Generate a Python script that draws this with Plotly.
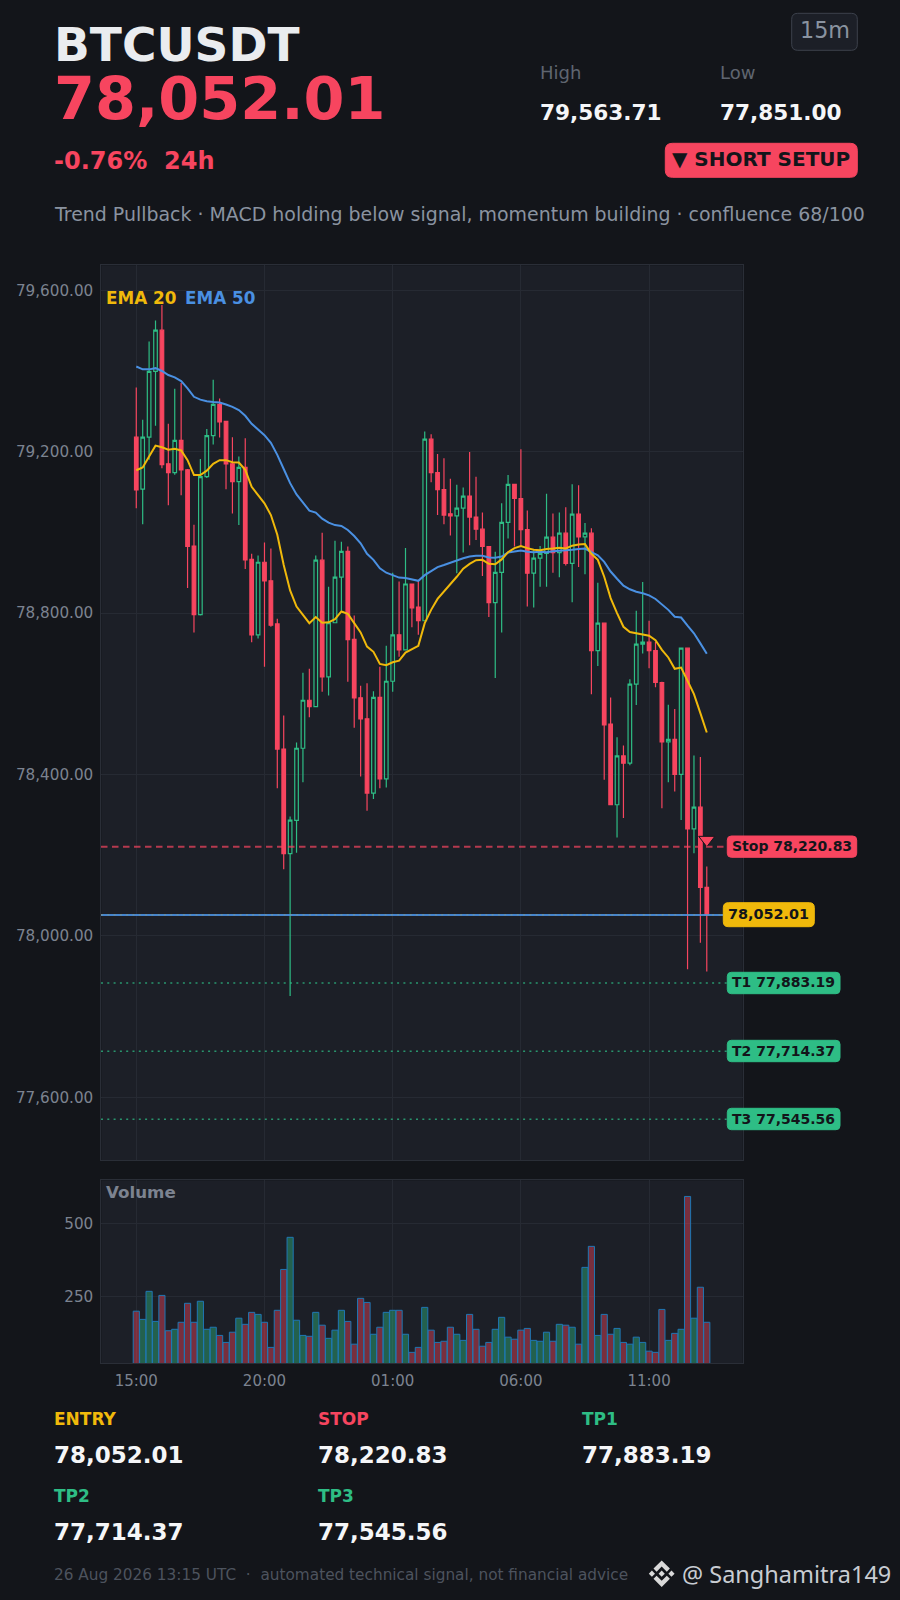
import pandas as pd
import plotly.graph_objects as go
from plotly.subplots import make_subplots

times = pd.date_range("2026-08-25 15:00", periods=90, freq="15min")

opens = [79236,79107,79236,79399,79501,79170,79148,79228,79155,78966,78796,79138,79240,79317,79275,79170,79126,79161,78933,78746,
         78926,78880,78773,78463,78204,78286,78465,78584,78568,78931,78642,78776,78889,78953,78735,78590,78538,78354,78591,78389,
         78631,78746,78709,78872,78815,78781,79231,79148,79106,79046,79041,79060,79090,79038,79008,78965,78826,78901,79025,79119,
         79084,79007,78899,78936,78948,78988,78950,78998,78923,79045,78989,78998,78707,78775,78525,78325,78446,78428,78624,78723,
         78728,78707,78628,78481,78487,78400,78713,78265,78319,78120]
closes = [79105,79236,79399,79501,79168,79148,79228,79155,78965,78796,79138,79240,79317,79274,79170,79126,79161,78932,78746,78926,
          78880,78770,78463,78204,78287,78465,78584,78568,78931,78642,78776,78889,78953,78734,78590,78538,78354,78591,78389,78631,
          78746,78709,78872,78813,78781,79231,79148,79106,79043,79041,79060,79090,79038,79008,78965,78826,78901,79025,79119,79084,
          79007,78899,78936,78948,78988,78950,78998,78923,79045,78989,78998,78707,78775,78523,78325,78446,78428,78624,78723,78728,
          78707,78628,78481,78487,78400,78713,78265,78319,78120,78052.01]
highs = [79359,79279,79473,79525,79563.71,79269,79356,79370,79157,79019,79182,79256,79378,79332,79276,79236,79188,79233,78947,78943,
         78975,78960,78786,78546,78296,78479,78652,78662,78943,78999,78865,78979,78977,78965,78794,78620,78626,78606,78667,78719,
         78900,78878,78961,78873,78882,79250,79243,79194,79184,79133,79118,79111,79199,79138,79049,78966,78952,79072,79142,79120,
         79206,79054,78956,78966,79096,79047,79049,79062,79119,79117,79023,79010,78875,78776,78591,78492,78472,78636,78806,78877,
         78781,78729,78630,78573,78562,78714,78714,78447,78443,78172]
lows = [79060,79020,79180,79264,79159,79067,79143,79092,78862,78752,78794,79135,79218,79235,79107,79047,79018,78909,78728,78737,
        78667,78766,78366,78165,77851,78206,78381,78542,78568,78605,78596,78775,78806,78630,78516,78395,78310,78339,78366,78368,
        78605,78692,78708,78765,78746,78780,79124,79043,79020,78992,78899,78950,78968,78981,78892,78790,78639,78752,78985,78965,
        78965,78816,78814,78865,78865,78900,78889,78918,78827,78914,78896,78599,78669,78387,78324,78244,78292,78423,78572,78700,
        78663,78616,78316,78381,78358,78287,77917,78205,77983,77912]
ema20 = [79154,79161,79188,79215,79211,79205,79207,79203,79179,79142,79142,79153,79170,79179,79179,79174,79173,79155,79113,79093,
         79072,79043,78994,78919,78856,78816,78795,78775,78790,78776,78777,78785,78804,78798,78775,78752,78717,78704,78674,78671,
         78678,78682,78702,78711,78719,78775,78808,78835,78853,78871,78890,78910,78922,78931,78932,78922,78921,78933,78951,78961,
         78966,78961,78957,78956,78959,78960,78962,78960,78967,78970,78971,78947,78932,78890,78837,78800,78766,78753,78750,78748,
         78744,78733,78709,78690,78662,78665,78630,78599,78552,78504]
ema50 = [79411,79404,79404,79407,79400,79390,79384,79375,79357,79336,79329,79325,79323,79322,79317,79311,79303,79289,79269,79256,
         79241,79222,79192,79157,79122,79094,79073,79054,79049,79034,79024,79018,79016,79006,78991,78973,78947,78932,78911,78900,
         78894,78888,78887,78884,78880,78894,78905,78914,78919,78925,78930,78936,78940,78942,78942,78938,78937,78940,78950,78953,
         78955,78952,78951,78952,78951,78953,78954,78955,78957,78959,78960,78951,78943,78927,78903,78885,78868,78859,78853,78849,
         78844,78835,78822,78808,78791,78789,78769,78750,78725,78699]
volumes = [199,171,267,164,253,132,137,161,226,161,233,137,144,116,92,127,175,154,195,188,
           161,75,202,342,452,168,116,113,195,151,106,134,202,164,86,243,229,120,144,195,
           202,202,120,58,75,212,134,92,96,144,120,99,188,137,79,92,137,178,110,103,
           134,140,99,96,127,96,154,151,144,86,349,421,116,188,120,140,92,86,110,92,
           62,58,205,99,123,137,592,175,281,161]

price_ticks = [77600, 78000, 78400, 78800, 79200, 79600]
vol_ticks = [250, 500]
time_ticks = ["2026-08-25 15:00", "2026-08-25 20:00", "2026-08-26 01:00", "2026-08-26 06:00", "2026-08-26 11:00"]
time_labels = ["15:00", "20:00", "01:00", "06:00", "11:00"]

entry = 78052.01
stop = 78220.83
targets = [77883.19, 77714.37, 77545.56]
signal_time = times[-1]
signal_price = 78238

BG = "#13151a"
PANEL = "#1c1f27"
GRID = "#262a33"
BORDER = "#2a2e37"
RED = "#f7455f"
GREEN = "#2ebd85"
GOLD = "#f0b90b"
BLUE = "#4a90e2"
GREY = "#8a93a0"
AXIS = "#7c8390"
WHITE = "#f5f6f8"
DARK = "#13151a"
FONT = "DejaVu Sans"

W, H = 900, 1600


def px(x):
    return x / W


def py(y):
    return 1 - y / H


fig = make_subplots(rows=2, cols=1, shared_xaxes=True)

fig.add_trace(go.Candlestick(
    x=times, open=opens, high=highs, low=lows, close=closes,
    increasing=dict(line=dict(color=GREEN, width=1.2), fillcolor="rgba(0,0,0,0)"),
    decreasing=dict(line=dict(color=RED, width=1.2), fillcolor=RED),
    whiskerwidth=0,
), row=1, col=1)
fig.add_trace(go.Scatter(x=times, y=ema50, mode="lines", line=dict(color=BLUE, width=2)), row=1, col=1)
fig.add_trace(go.Scatter(x=times, y=ema20, mode="lines", line=dict(color=GOLD, width=2)), row=1, col=1)
fig.add_trace(go.Scatter(
    x=[signal_time], y=[signal_price], mode="markers",
    marker=dict(symbol="triangle-down", size=14, color=RED, line=dict(color=DARK, width=1)),
), row=1, col=1)

bar_colors = ["rgba(247,69,95,0.42)" if c < o else "rgba(46,189,133,0.42)" for o, c in zip(opens, closes)]
fig.add_trace(go.Bar(
    x=times, y=volumes,
    marker=dict(color=bar_colors, line=dict(color="#1f77b4", width=1)),
), row=2, col=1)

shapes = []


def rounded(x0, y0, x1, y1, r, fill, line=None):
    path = (f"M{px(x0 + r)},{py(y0)} L{px(x1 - r)},{py(y0)} Q{px(x1)},{py(y0)} {px(x1)},{py(y0 + r)} "
            f"L{px(x1)},{py(y1 - r)} Q{px(x1)},{py(y1)} {px(x1 - r)},{py(y1)} "
            f"L{px(x0 + r)},{py(y1)} Q{px(x0)},{py(y1)} {px(x0)},{py(y1 - r)} "
            f"L{px(x0)},{py(y0 + r)} Q{px(x0)},{py(y0)} {px(x0 + r)},{py(y0)} Z")
    shapes.append(dict(type="path", xref="paper", yref="paper", path=path, fillcolor=fill,
                       line=dict(color=line or fill, width=1), layer="above"))


def level(value, x1, color, dash, width):
    shapes.append(dict(type="line", xref="paper", yref="y", x0=px(101), x1=px(x1), y0=value, y1=value,
                       line=dict(color=color, dash=dash, width=width), layer="above"))


def poly(points, fill):
    path = "M" + " L".join(f"{px(x)},{py(y)}" for x, y in points) + " Z"
    shapes.append(dict(type="path", xref="paper", yref="paper", path=path, fillcolor=fill,
                       line=dict(width=0), layer="above"))


level(stop, 727, "rgba(247,69,95,0.7)", "6.5px,4.5px", 2)
level(entry, 723, "rgba(74,144,226,0.9)", "solid", 2)
level(entry, 723, "rgba(240,185,11,0.3)", "2px,4.3px", 1)
for t in targets:
    level(t, 727, "rgba(46,189,133,0.75)", "2px,4.3px", 1.5)

rounded(791.7, 13.3, 857.3, 50.3, 6, PANEL, "#3c414c")
rounded(665.3, 143.3, 857.3, 177.3, 7, RED)
rounded(727.3, 836, 856.7, 857.3, 4, RED)
rounded(723.3, 902.7, 814.3, 926.7, 5, GOLD)
for top in [972.3, 1040.3, 1108.3]:
    rounded(727.3, top, 840, top + 21.4, 4, GREEN)

# binance mark next to the handle
lx, ly = 661.7, 1573.7
for dx in [-9.8, 0, 9.8]:
    poly([(lx + dx - 3.1, ly), (lx + dx, ly - 3.1), (lx + dx + 3.1, ly), (lx + dx, ly + 3.1)], "#d9d9d9")
for s in [-1, 1]:
    poly([(lx, ly + s * 13.3), (lx + 8.2, ly + s * 5.1), (lx + 5.1, ly + s * 2), (lx, ly + s * 7.1),
          (lx - 5.1, ly + s * 2), (lx - 8.2, ly + s * 5.1)], "#d9d9d9")

notes = []


def label(x, y, text, size, color, bold=False, anchor="left", family=FONT):
    notes.append(dict(xref="paper", yref="paper", x=px(x), y=py(y), text=f"<b>{text}</b>" if bold else text,
                      showarrow=False, xanchor=anchor, yanchor="middle", borderpad=0, borderwidth=0,
                      font=dict(family=family, size=size, color=color)))


label(54, 45, "BTCUSDT", 47, "#eaecef", True)
label(54, 98, "78,052.01", 58.9, RED, True)
label(54, 161, "-0.76%", 24, RED, True)
label(164, 161, "24h", 24, RED, True)
label(54, 214, "Trend Pullback · MACD holding below signal, momentum building · confluence 68/100", 18.96, GREY)
label(539.7, 72, "High", 18, "#5f6570")
label(720, 72, "Low", 18, "#5f6570")
label(539.7, 112.5, "79,563.71", 21.6, WHITE, True)
label(720, 112.5, "77,851.00", 21.6, WHITE, True)
label(824.5, 30.5, "15m", 22.3, GREY, anchor="center")
label(761.3, 159, "▼ SHORT SETUP", 20, DARK, True, anchor="center")

label(106.3, 297.7, "EMA 20", 16.8, GOLD, True)
label(185, 297.7, "EMA 50", 16.8, BLUE, True)
label(106, 1191.7, "Volume", 16.7, AXIS, True)

label(731.7, 846, "Stop 78,220.83", 14, DARK, True)
label(728, 913.5, "78,052.01", 14.4, DARK, True)
label(731.7, 982.5, "T1 77,883.19", 14, DARK, True)
label(731.7, 1050.5, "T2 77,714.37", 14, DARK, True)
label(731.7, 1118.5, "T3 77,545.56", 14, DARK, True)

label(54, 1419, "ENTRY", 17, GOLD, True)
label(318, 1419, "STOP", 17, RED, True)
label(582, 1419, "TP1", 17, GREEN, True)
label(54, 1455, "78,052.01", 23, WHITE, True)
label(318, 1455, "78,220.83", 23, WHITE, True)
label(582, 1455, "77,883.19", 23, WHITE, True)
label(54, 1496, "TP2", 17, GREEN, True)
label(318, 1496, "TP3", 17, GREEN, True)
label(54, 1531.5, "77,714.37", 23, WHITE, True)
label(318, 1531.5, "77,545.56", 23, WHITE, True)

label(54, 1574.5, "26 Aug 2026 13:15 UTC  ·  automated technical signal, not financial advice", 15.3, "#4d535e")
label(681.7, 1573.7, "@ Sanghamitra149", 23.5, "#c8ccd2", family="Noto Sans")

fig.update_layout(
    width=W, height=H, margin=dict(l=0, r=0, t=0, b=0), autosize=False,
    paper_bgcolor=BG, plot_bgcolor=PANEL, showlegend=False, bargap=0.04, boxgap=0.2,
    font=dict(family=FONT, color=AXIS), shapes=shapes, annotations=notes,
)

x_range = ["2026-08-25 13:38:08", "2026-08-26 14:39:04"]
axis_style = dict(gridcolor=GRID, gridwidth=1, zeroline=False, showline=True, linecolor=BORDER, linewidth=1, mirror=True)
fig.update_xaxes(domain=[px(101.3), px(742.7)], range=x_range, tickvals=time_ticks, ticktext=time_labels,
                 rangeslider_visible=False, tickfont=dict(size=15, color=AXIS), ticks="outside", ticklen=4,
                 tickcolor="rgba(0,0,0,0)", **axis_style)
fig.update_xaxes(showticklabels=False, ticks="", row=1, col=1)
fig.update_yaxes(domain=[py(1160.3), py(265.3)], range=[77443.8, 79661.9], tickvals=price_ticks, tickformat=",.2f",
                 tickfont=dict(size=15.2, color=AXIS), ticks="outside", ticklen=4, tickcolor="rgba(0,0,0,0)",
                 row=1, col=1, **axis_style)
fig.update_yaxes(domain=[py(1363.3), py(1180.3)], range=[20.5, 647.3], tickvals=vol_ticks,
                 tickfont=dict(size=15.2, color=AXIS), ticks="outside", ticklen=4, tickcolor="rgba(0,0,0,0)",
                 row=2, col=1, **axis_style)

fig.write_html("out.html", config=dict(displayModeBar=False),
               post_script="document.body.style.margin='0';document.body.style.background='" + BG + "';")
